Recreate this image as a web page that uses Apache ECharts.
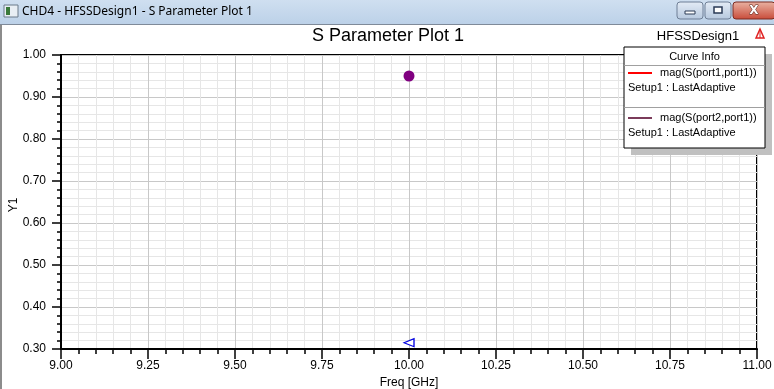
<!DOCTYPE html>
<html>
<head>
<meta charset="utf-8">
<script src="https://cdn.jsdelivr.net/npm/echarts@6/dist/echarts.min.js"></script>
<style>
html,body{margin:0;padding:0;background:#fff;}
#chart{width:774px;height:389px;}
</style>
</head>
<body>
<div id="chart"></div>
<script>
// ---- data ----
var windowTitle = 'CHD4 - HFSSDesign1 - S Parameter Plot 1';
var plotTitle = 'S Parameter Plot 1';
var designName = 'HFSSDesign1';
var xAxisName = 'Freq [GHz]';
var yAxisName = 'Y1';
var xRange = [9.0, 11.0];
var yRange = [0.30, 1.00];
var xStep = 0.25;
var yStep = 0.10;
var curveNames = ['mag(S(port1,port1))', 'mag(S(port2,port1))'];
var curveSetups = ['Setup1 : LastAdaptive', 'Setup1 : LastAdaptive'];
var curveColors = ['#ff0000', '#7b3b5a'];
var markerCircle = [[10.00, 0.95]];
var markerTriangle = [[10.00, 0.315]];

var chart = echarts.init(document.getElementById('chart'));
var font = '"Liberation Sans", Arial, sans-serif';

var legendX = 624, legendY = 47, legendW = 141, legendH = 101;
var graphics = [
  // title bar
  {type:'rect', shape:{x:0,y:0,width:774,height:24}, style:{fill:new echarts.graphic.LinearGradient(0,0,0,1,[{offset:0,color:'#cfdff0'},{offset:1,color:'#bcd1e8'}])}, z:10},
  {type:'line', shape:{x1:0,y1:24.5,x2:774,y2:24.5}, style:{stroke:'#7f8a99',lineWidth:1}, z:10},
  {type:'rect', shape:{x:4,y:5,width:14,height:12}, style:{fill:'#e8eef4',stroke:'#6a7a8a',lineWidth:1}, z:11},
  {type:'rect', shape:{x:6,y:7,width:4,height:8}, style:{fill:'#3a7a3a'}, z:12},
  {type:'text', x:22, y:12, style:{text:windowTitle, font:'12px "Noto Sans", sans-serif', fill:'#000', verticalAlign:'middle'}, z:11},
  // buttons
  {type:'rect', shape:{x:677,y:2,width:26,height:17,r:3}, style:{fill:new echarts.graphic.LinearGradient(0,0,0,1,[{offset:0,color:'#e4ecf6'},{offset:1,color:'#b6c8de'}]),stroke:'#6f7f96',lineWidth:1}, z:11},
  {type:'rect', shape:{x:685,y:11,width:10,height:3}, style:{fill:'#fff',stroke:'#2a3a55',lineWidth:1}, z:12},
  {type:'rect', shape:{x:705,y:2,width:26,height:17,r:3}, style:{fill:new echarts.graphic.LinearGradient(0,0,0,1,[{offset:0,color:'#e4ecf6'},{offset:1,color:'#b6c8de'}]),stroke:'#6f7f96',lineWidth:1}, z:11},
  {type:'rect', shape:{x:714,y:7,width:8,height:6}, style:{fill:'#fff',stroke:'#2a3a55',lineWidth:1.5}, z:12},
  {type:'rect', shape:{x:733,y:2,width:42,height:17,r:3}, style:{fill:new echarts.graphic.LinearGradient(0,0,0,1,[{offset:0,color:'#eab4a4'},{offset:1,color:'#c84a38'}]),stroke:'#7a2a20',lineWidth:1}, z:11},
  {type:'text', x:754, y:11, style:{text:'X', font:'bold 12px "DejaVu Sans", sans-serif', fill:'#fff', stroke:'#5a2a20', lineWidth:1, align:'center', verticalAlign:'middle'}, z:12},
  // left window border
  {type:'rect', shape:{x:0,y:25,width:2,height:364}, style:{fill:'#8c8c8c'}, z:10},
  // plot title and design name
  {type:'text', x:388, y:36, style:{text:plotTitle, font:'18px '+font, fill:'#000', align:'center', verticalAlign:'middle'}, z:10},
  {type:'text', x:698, y:36, style:{text:designName, font:'13px '+font, fill:'#000', align:'center', verticalAlign:'middle'}, z:10},
  {type:'polygon', shape:{points:[[760,29],[756,38],[764,38]]}, style:{fill:'none',stroke:'#e02020',lineWidth:1.5}, z:10},
  {type:'line', shape:{x1:760,y1:31,x2:760,y2:38}, style:{stroke:'#e02020',lineWidth:1}, z:10},
  // y axis name
  {type:'text', x:14, y:205, rotation:Math.PI/2, style:{text:yAxisName, font:'12px '+font, fill:'#000', align:'center', verticalAlign:'middle'}, z:10},
  // legend shadow and box
  {type:'rect', shape:{x:legendX+7,y:legendY+7,width:legendW,height:legendH}, style:{fill:'#c0c0c0'}, z:20},
  {type:'rect', shape:{x:legendX,y:legendY,width:legendW,height:legendH}, style:{fill:'#fff',stroke:'#000',lineWidth:1}, z:21},
  {type:'text', x:legendX+legendW/2, y:57, style:{text:'Curve Info', font:'11px '+font, fill:'#000', align:'center', verticalAlign:'middle'}, z:22},
  {type:'line', shape:{x1:legendX,y1:65.5,x2:legendX+legendW,y2:65.5}, style:{stroke:'#a0a0a0',lineWidth:1}, z:22},
  {type:'line', shape:{x1:legendX,y1:107.5,x2:legendX+legendW,y2:107.5}, style:{stroke:'#a0a0a0',lineWidth:1}, z:22}
];
for (var i = 0; i < curveNames.length; i++) {
  var base = 73 + i * 45;
  graphics.push({type:'line', shape:{x1:628,y1:base,x2:652,y2:base}, style:{stroke:curveColors[i],lineWidth:2}, z:22});
  graphics.push({type:'text', x:660, y:base, style:{text:curveNames[i], font:'11px '+font, fill:'#000', verticalAlign:'middle'}, z:22});
  graphics.push({type:'text', x:628, y:base+15, style:{text:curveSetups[i], font:'11px '+font, fill:'#000', verticalAlign:'middle'}, z:22});
}

var option = {
  animation: false,
  backgroundColor: '#fff',
  grid: {left:61, right:17, top:55, bottom:40, outerBoundsMode:'none', containLabel:false, show:true, borderColor:'#000', borderWidth:2, backgroundColor:'transparent'},
  xAxis: {
    type:'value', min:xRange[0], max:xRange[1], interval:xStep,
    name:xAxisName, nameLocation:'middle', nameGap:26,
    nameTextStyle:{fontFamily:font, fontSize:12, color:'#000'},
    axisLine:{show:true, onZero:false, lineStyle:{color:'#000', width:2}},
    axisTick:{show:true, length:10, lineStyle:{color:'#000', width:1.5}},
    minorTick:{show:true, splitNumber:5, length:5, lineStyle:{color:'#000', width:1.5}},
    axisLabel:{fontFamily:font, fontSize:12, color:'#000', margin:11, formatter:function(v){return v.toFixed(2);}},
    splitLine:{show:true, lineStyle:{color:'#c8c8c8', width:1}},
    minorSplitLine:{show:true, lineStyle:{color:'#e6e6e6', width:1}}
  },
  yAxis: {
    type:'value', min:yRange[0], max:yRange[1], interval:yStep,
    axisLine:{show:true, onZero:false, lineStyle:{color:'#000', width:2}},
    axisTick:{show:true, length:9, lineStyle:{color:'#000', width:1.5}},
    minorTick:{show:true, splitNumber:5, length:4, lineStyle:{color:'#000', width:1.5}},
    axisLabel:{fontFamily:font, fontSize:12, color:'#000', margin:15, formatter:function(v){return v.toFixed(2);}},
    splitLine:{show:true, lineStyle:{color:'#c8c8c8', width:1}},
    minorSplitLine:{show:true, lineStyle:{color:'#e6e6e6', width:1}}
  },
  series: [
    {type:'scatter', data:markerCircle, symbol:'circle', symbolSize:11, itemStyle:{color:'#800080', opacity:1}, z:5},
    {type:'scatter', data:markerTriangle, symbol:'triangle', symbolRotate:90, symbolSize:[8,10], itemStyle:{color:'#fff', borderColor:'#0000e0', borderWidth:1.2, opacity:1}, z:5}
  ],
  graphic: graphics
};
chart.setOption(option);
</script>
</body>
</html>
